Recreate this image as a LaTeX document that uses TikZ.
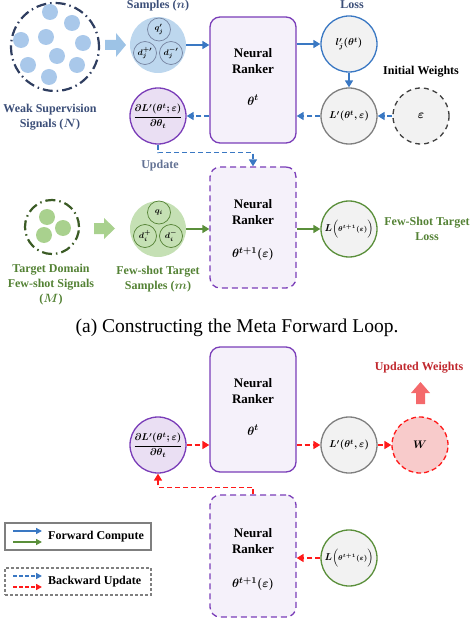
\documentclass[tikz,border=0pt]{standalone}
\usepackage{amsmath}
\usepackage{fontspec}
\setmainfont{Liberation Serif}
\usetikzlibrary{arrows.meta,positioning}
\definecolor{navy}{HTML}{3B4E78}
\definecolor{blu}{HTML}{3A78C3}
\definecolor{lblu}{HTML}{A9C8EA}
\definecolor{sblu}{HTML}{BDD7EE}
\definecolor{fatbl}{HTML}{9DC3E6}
\definecolor{grn}{HTML}{548235}
\definecolor{grnline}{HTML}{5A8F3A}
\definecolor{lgrn}{HTML}{A9D18E}
\definecolor{sgrn}{HTML}{C5E0B4}
\definecolor{purp}{HTML}{7A3DB8}
\definecolor{boxfill}{HTML}{F5F1FA}
\definecolor{gradfill}{HTML}{EADFF3}
\definecolor{cfill}{HTML}{F2F2F2}
\definecolor{cgray}{HTML}{7F7F7F}
\definecolor{rd}{HTML}{FF1A1A}
\definecolor{rdtext}{HTML}{C0272D}
\definecolor{lrd}{HTML}{F8CBCB}
\definecolor{fatrd}{HTML}{F4696B}
\tikzset{
  lbl/.style={font=\fontsize{12}{15}\selectfont\bfseries\boldmath, align=center, inner sep=0pt},
  rtxt/.style={font=\fontsize{13}{16}\selectfont\bfseries\boldmath, align=center, inner sep=0pt},
  mtxt/.style={font=\fontsize{10}{12}\selectfont\boldmath, inner sep=0pt},
  stxt/.style={font=\fontsize{8.5}{10}\selectfont\boldmath, inner sep=0pt},
  rankbox/.style={rectangle, rounded corners=10pt, draw=purp, line width=1.3pt, fill=boxfill, minimum width=86pt},
  dashbox/.style={rankbox, dash pattern=on 6pt off 4pt},
  circ/.style={circle, minimum size=56pt, inner sep=0pt, line width=1.3pt, fill=cfill},
  smallc/.style={circle, minimum size=23pt, inner sep=0pt, line width=0.7pt},
  dot/.style={circle, minimum size=16pt, inner sep=0pt},
  arrhead/.style={-{Triangle[length=7pt,width=8pt]}},
  fwdb/.style={arrhead, draw=blu, line width=1.6pt},
  fwdg/.style={arrhead, draw=grnline, line width=1.6pt},
  bwdb/.style={fwdb, dash pattern=on 5pt off 3pt},
  bwdr/.style={arrhead, draw=rd, line width=1.6pt, dash pattern=on 5pt off 3pt},
  legarr/.style={-{Triangle[length=6pt,width=6pt]}, line width=1.6pt},
}
\begin{document}
\begin{tikzpicture}[x=1pt,y=-1pt]
\useasboundingbox (0,0) rectangle (474,620);

% ---------- weak supervision signals ----------
\node[circle, minimum size=88pt, draw=navy!80!black, line width=2.2pt,
      dash pattern=on 10pt off 4pt on 1.5pt off 4pt] (weak) at (55,47) {};
\foreach \i/\x/\y in {1/50/12, 2/72/23, 3/46/37, 4/21/40, 5/83/43, 6/57/56, 7/28/65, 8/77/65, 9/49/77}
  \node[dot, fill=lblu] (wd\i) at (\x,\y) {};
\node[lbl, text=navy] (weaklbl) at (50,117) {Weak Supervision\\Signals ($N$)};
\fill[fatbl] (105,40) -- (116,40) -- (116,33) -- (126,45) -- (116,57) -- (116,50) -- (105,50) -- cycle;

% samples
\node[circle, minimum size=56pt, inner sep=0pt, fill=sblu] (samp) at (158,45) {};
\node[smallc, draw=navy!70] (qj) at (159,29.5) {};
\node[smallc, draw=navy!70] (dpj) at (145,53) {};
\node[smallc, draw=navy!70] (dmj) at (171,53) {};
\node[stxt] (qjt) at (qj) {$q_j^{\prime}$};
\node[stxt] (dpjt) at (dpj) {$d_j^{+\prime}$};
\node[stxt] (dmjt) at (dmj) {$d_j^{-\prime}$};
\node[lbl, text=navy] (samplbl) at (158,6) {Samples ($n$)};

% neural ranker 1
\node[rankbox, minimum height=126pt] (nr1) at (253,80) {};
\node[rtxt] (nr1t) at (253,61) {Neural\\Ranker};
\node[rtxt] (nr1th) at (253,100) {$\theta^t$};

% loss
\node[circ, draw=blu, mtxt] (loss) at (349,44) {$l_j^{\prime}(\theta^t)$};
\node[lbl, text=navy] (losslbl) at (352,5) {Loss};

\node[circ, draw=cgray, mtxt] (Lp) at (349,116) {$L^{\prime}(\theta^t,\varepsilon)$};

\node[circ, draw=black!75, dash pattern=on 5pt off 4pt, font=\fontsize{12}{14}\selectfont\boldmath] (eps) at (421,116) {$\varepsilon$};
\node[lbl] (initlbl) at (421,72) {Initial Weights};

\node[circ, draw=purp, fill=gradfill, mtxt] (grad) at (158,116) {$\dfrac{\partial L^{\prime}(\theta^t;\varepsilon)}{\partial\theta_t}$};

\draw[fwdb] (samp.east) -- (nr1.west |- samp.east);
\draw[fwdb] (nr1.east |- loss.west) -- (loss.west);
\draw[fwdb] (loss.south) -- (Lp.north);
\draw[bwdb] (eps.west) -- (Lp.east);
\draw[bwdb] (Lp.west) -- (nr1.east |- Lp.west);
\draw[bwdb] (nr1.west |- grad.east) -- (grad.east);

% neural ranker 2 (dashed)
\node[dashbox, minimum height=121pt] (nr2) at (253,227.5) {};
\node[rtxt] (nr2t) at (253,212) {Neural\\Ranker};
\node[rtxt] (nr2th) at (253,254) {$\theta^{t+1}(\varepsilon)$};
\draw[bwdb] (grad.south) -- ++(0,8) -| (nr2.north);
\node[lbl, text=navy!80] (updlbl) at (160,166) {Update};

% target domain
\node[circle, minimum size=54pt, draw=grn!70!black, line width=2.2pt,
      dash pattern=on 10pt off 4pt on 1.5pt off 4pt] (tgt) at (52,227) {};
\node[dot, fill=lgrn] (td1) at (47,217) {};
\node[dot, fill=lgrn] (td2) at (63,228) {};
\node[dot, fill=lgrn] (td3) at (44,235) {};
\node[lbl, text=grn] (tgtlbl) at (51,285) {Target Domain\\Few-shot Signals\\($M$)};
\fill[lgrn] (94,223) -- (104,223) -- (104,218) -- (115,228.5) -- (104,239) -- (104,234) -- (94,234) -- cycle;

\node[circle, minimum size=56pt, inner sep=0pt, fill=sgrn] (fsamp) at (158,229) {};
\node[smallc, draw=grn] (qi) at (159,212.5) {};
\node[smallc, draw=grn] (dpi) at (145,236) {};
\node[smallc, draw=grn] (dmi) at (171,236) {};
\node[stxt] (qit) at (qi) {$q_i$};
\node[stxt] (dpit) at (dpi) {$d_i^{+}$};
\node[stxt] (dmit) at (dmi) {$d_i^{-}$};
\node[lbl, text=grn] (fslbl) at (158,279) {Few-shot Target\\Samples ($m$)};
\draw[fwdg] (fsamp.east) -- (nr2.west |- fsamp.east);

\node[circ, draw=grnline, mtxt] (Lt) at (349,229) {$L\Big(\scriptstyle\theta^{t+1}(\varepsilon)\Big)$};
\draw[fwdg] (nr2.east |- Lt.west) -- (Lt.west);
\node[lbl, text=grn] (ltlbl) at (427,229) {Few-Shot Target\\Loss};

% caption
\node[font=\fontsize{19.5}{22}\selectfont, inner sep=0pt] (capa) at (237,328) {(a) Constructing the Meta Forward Loop.};

% ---------- bottom part ----------
\node[rankbox, minimum height=125pt] (nr3) at (253,409.5) {};
\node[rtxt] (nr3t) at (253,391) {Neural\\Ranker};
\node[rtxt] (nr3th) at (253,430) {$\theta^t$};

\node[circ, draw=purp, fill=gradfill, mtxt] (grad2) at (158,445) {$\dfrac{\partial L^{\prime}(\theta^t;\varepsilon)}{\partial\theta_t}$};

\node[circ, draw=cgray, mtxt] (Lp2) at (349,445) {$L^{\prime}(\theta^t,\varepsilon)$};

\node[circ, draw=rd, fill=lrd, dash pattern=on 5pt off 3pt, font=\fontsize{11}{13}\selectfont\boldmath] (W) at (420,445) {$W$};
\fill[fatrd] (411,393) -- (420.5,382) -- (430,393) -- (425,393) -- (425,404) -- (416,404) -- (416,393) -- cycle;
\node[lbl, text=rdtext] (updw) at (419,368) {Updated Weights};

\draw[bwdr] (grad2.east) -- (nr3.west |- grad2.east);
\draw[bwdr] (nr3.east |- Lp2.west) -- (Lp2.west);
\draw[bwdr] (Lp2.east) -- (W.west);

\node[dashbox, minimum height=122pt] (nr4) at (253,556) {};
\node[rtxt] (nr4t) at (253,541) {Neural\\Ranker};
\node[rtxt] (nr4th) at (253,584) {$\theta^{t+1}(\varepsilon)$};

\node[circ, draw=grnline, mtxt] (Lt2) at (349,558) {$L\Big(\scriptstyle\theta^{t+1}(\varepsilon)\Big)$};
\draw[bwdr] (Lt2.west) -- (nr4.east |- Lt2.west);
\draw[bwdr] (nr4.north) -- ++(0,-7) -| (grad2.south);

% legend
\node[draw=cgray, line width=1.4pt, minimum width=146pt, minimum height=27pt] (leg1) at (78,536.5) {};
\node[draw=cgray, line width=1.2pt, dash pattern=on 3pt off 2pt, minimum width=146pt, minimum height=27pt] (leg2) at (78,581.5) {};
\coordinate (la1) at (13,531); \coordinate (lb1) at (42,531);
\coordinate (la2) at (13,542); \coordinate (lb2) at (42,542);
\coordinate (la3) at (13,576); \coordinate (lb3) at (42,576);
\coordinate (la4) at (13,587); \coordinate (lb4) at (42,587);
\draw[legarr, draw=blu] (la1) -- (lb1);
\draw[legarr, draw=grnline] (la2) -- (lb2);
\draw[legarr, draw=blu, dash pattern=on 4pt off 2pt] (la3) -- (lb3);
\draw[legarr, draw=rd, dash pattern=on 4pt off 2pt] (la4) -- (lb4);
\node[lbl, anchor=west] (leg1t) at (48,537) {Forward Compute};
\node[lbl, anchor=west] (leg2t) at (48,582) {Backward Update};
\end{tikzpicture}
\end{document}
